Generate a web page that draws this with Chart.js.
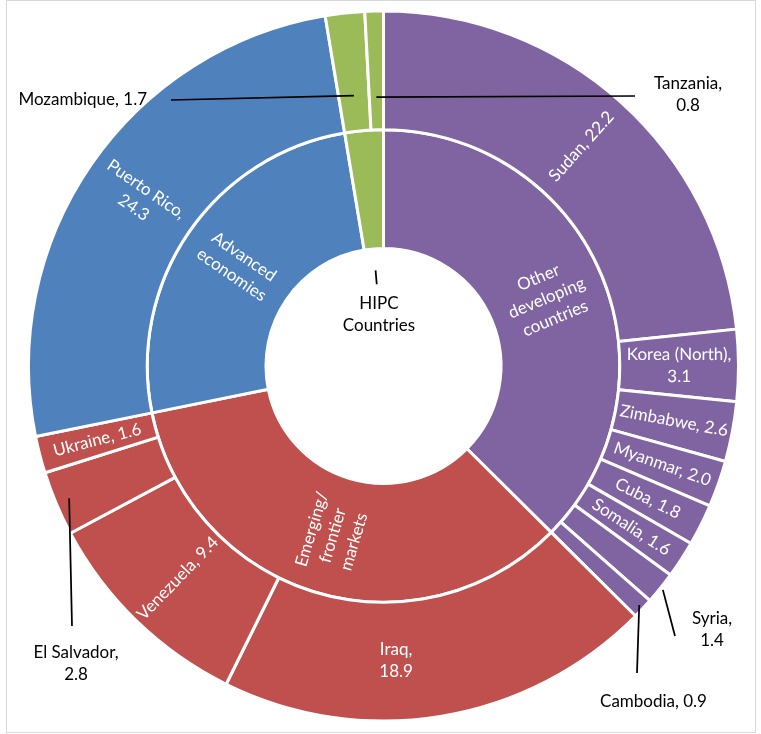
<!DOCTYPE html>
<html lang="en">
<head>
<meta charset="UTF-8">
<title>Debt by country group</title>
<script src="https://cdn.jsdelivr.net/npm/chart.js"></script>
<style>
  body { margin: 0; background: #fff; }
  #wrap { width: 761px; height: 734px; }
</style>
</head>
<body>
<div id="wrap"><canvas id="sunburst" width="761" height="734"></canvas></div>
<script>
// inner ring (country groups), clockwise from 12 o'clock
const groups = [['Other', 'developing', 'countries'], ['Emerging/', 'frontier', 'markets'], ['Advanced', 'economies'], ['HIPC', 'Countries']];
const groupValues = [35.6, 32.7, 24.3, 2.5];

// outer ring (countries), same order
const countries = ['Sudan', 'Korea (North)', 'Zimbabwe', 'Myanmar', 'Cuba', 'Somalia', 'Syria', 'Cambodia',
  'Iraq', 'Venezuela', 'El Salvador', 'Ukraine', 'Puerto Rico', 'Mozambique', 'Tanzania'];
const countryValues = [22.2, 3.1, 2.6, 2.0, 1.8, 1.6, 1.4, 0.9, 18.9, 9.4, 2.8, 1.6, 24.3, 1.7, 0.8];
const countryGroup = [0, 0, 0, 0, 0, 0, 0, 0, 1, 1, 1, 1, 2, 3, 3];

const groupColors = ['#8064A2', '#C0504D', '#4F81BD', '#9BBB59'];
const FONT = '17px Lato, "Open Sans", sans-serif';
const LINE_H = 22;

// labels that break after the comma
const wrapped = ['Korea (North)', 'Iraq', 'Puerto Rico', 'Tanzania', 'El Salvador', 'Syria'];

// labels drawn outside the ring with a leader line (px from the centre)
const outside = {
  'Mozambique': { r0: 272, end: [-212.5, -266], text: [-236.5, -266], align: 'right' },
  'Tanzania': { r0: 269, end: [251.5, -270], text: [304.5, -271] },
  'El Salvador': { r0: 341, end: [-311.5, 260], text: [-307.5, 298] },
  'Syria': { r0: 358, end: [291.5, 270], text: [328.5, 264] },
  'Cambodia': { r0: 350, end: [253.5, 307], text: [270, 336] },
  'HIPC': { r0: 96, r1: 82, text: [-4.5, -51.5] }
};
// horizontal labels that sit off the arc middle
const nudge = { 'Iraq': [-36, 3] };

const countryLines = countries.map((c, i) => {
  const v = countryValues[i].toFixed(1);
  return wrapped.includes(c) ? [c + ',', v] : [c + ', ' + v];
});

function drawLines(ctx, lines, x, y) {
  lines.forEach((ln, k) => {
    ctx.fillText(ln, x, y + (k - (lines.length - 1) / 2) * LINE_H);
  });
}

const frame = {
  id: 'frame',
  beforeDraw(chart) {
    const ctx = chart.ctx;
    ctx.save();
    ctx.strokeStyle = '#D9D9D9';
    ctx.lineWidth = 1;
    ctx.strokeRect(6.5, 0.5, 749, 732);
    ctx.restore();
  }
};

const sunburstLabels = {
  id: 'sunburstLabels',
  afterDatasetsDraw(chart) {
    const ctx = chart.ctx;
    ctx.save();
    ctx.font = FONT;
    ctx.textBaseline = 'middle';
    chart.data.datasets.forEach((ds, di) => {
      chart.getDatasetMeta(di).data.forEach((arc, i) => {
        const p = arc.getProps(['x', 'y', 'startAngle', 'endAngle', 'innerRadius', 'outerRadius'], true);
        const mid = (p.startAngle + p.endAngle) / 2;
        const lines = ds.labelLines[i];
        const key = lines[0].replace(/,.*$/, '');
        const ext = outside[key];
        if (ext) {
          const x0 = p.x + ext.r0 * Math.cos(mid), y0 = p.y + ext.r0 * Math.sin(mid);
          const x1 = ext.end ? p.x + ext.end[0] : p.x + ext.r1 * Math.cos(mid);
          const y1 = ext.end ? p.y + ext.end[1] : p.y + ext.r1 * Math.sin(mid);
          ctx.strokeStyle = '#000';
          ctx.lineWidth = 1.75;
          ctx.beginPath();
          ctx.moveTo(x0, y0);
          ctx.lineTo(x1, y1);
          ctx.stroke();
          ctx.fillStyle = '#000';
          ctx.textAlign = ext.align || 'center';
          drawLines(ctx, lines, p.x + ext.text[0], p.y + ext.text[1]);
          return;
        }
        const r = (p.innerRadius + p.outerRadius) / 2;
        let x = p.x + r * Math.cos(mid), y = p.y + r * Math.sin(mid);
        if (nudge[key]) { x += nudge[key][0]; y += nudge[key][1]; }
        let rot = 0;
        if (Math.abs(Math.sin(mid)) < 0.97) rot = Math.cos(mid) >= 0 ? mid : mid + Math.PI;
        ctx.save();
        ctx.translate(x, y);
        ctx.rotate(rot);
        ctx.fillStyle = '#fff';
        ctx.textAlign = 'center';
        drawLines(ctx, lines, 0, 0);
        ctx.restore();
      });
    });
    ctx.restore();
  }
};

new Chart(document.getElementById('sunburst'), {
  type: 'doughnut',
  data: {
    labels: countries,
    datasets: [
      {
        data: countryValues,
        labelLines: countryLines,
        backgroundColor: countryGroup.map(g => groupColors[g]),
        borderColor: '#fff',
        borderWidth: 3
      },
      {
        data: groupValues,
        labelLines: groups,
        backgroundColor: groupColors,
        borderColor: '#fff',
        borderWidth: 3
      }
    ]
  },
  options: {
    responsive: false,
    animation: false,
    cutout: '33.1%',
    layout: { padding: { left: 27, right: 21, top: 9.5, bottom: 11.5 } },
    plugins: {
      legend: { display: false },
      tooltip: { enabled: false }
    },
    events: []
  },
  plugins: [frame, sunburstLabels]
});
</script>
</body>
</html>
